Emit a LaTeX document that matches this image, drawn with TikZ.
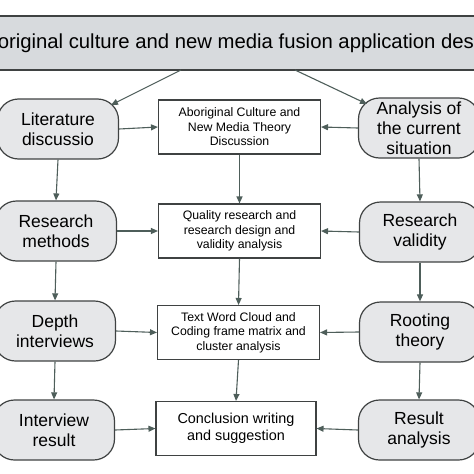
\documentclass[tikz,border=0pt]{standalone}
\usepackage{fontspec}
\setmainfont{Liberation Sans}
\usetikzlibrary{arrows.meta}
\definecolor{linec}{HTML}{4E5E5A}
\definecolor{edgec}{HTML}{3F4242}
\definecolor{sidefill}{HTML}{E6E7E9}
\definecolor{banfill}{HTML}{D7DADD}
\begin{document}
\begin{tikzpicture}[x=1pt,y=-1pt,
  sidebox/.style={draw=edgec,line width=1.2pt,fill=sidefill,rounded corners=21pt,
     minimum width=121pt,minimum height=60pt,align=center,font=\fontsize{17.5}{20}\selectfont,inner sep=0pt},
  midbox/.style={draw=edgec,line width=1.1pt,fill=white,minimum width=162pt,minimum height=54pt,
     align=center,font=\fontsize{12.3}{14.5}\selectfont,inner sep=0pt},
  conn/.style={draw=linec,line width=1.1pt,-{Triangle[length=7pt,width=6pt]}}]
\useasboundingbox (0,0) rectangle (474,474);
\begin{scope}
\clip (0,0) rectangle (474,474);
\node[draw=edgec,line width=1.2pt,fill=banfill,minimum width=500pt,minimum height=54pt,inner sep=0pt] (ban) at (237,43) {};
\node[font=\fontsize{20.3}{22}\selectfont] (bantext) at (ban.center) {Aboriginal culture and new media fusion application design};
% side boxes
\node[sidebox] (l1) at (58,129) {Literature\\discussio};
\node[sidebox] (l2) at (56,231) {Research\\methods};
\node[sidebox] (l3) at (55,331) {Depth\\interviews};
\node[sidebox] (l4) at (54,430) {Interview\\result};
\node[sidebox] (r1) at (419,128) {Analysis of\\the current\\situation};
\node[sidebox] (r2) at (420,232) {Research\\validity};
\node[sidebox] (r3) at (420,332) {Rooting\\theory};
\node[sidebox] (r4) at (419,430) {Result\\analysis};
% middle boxes
\node[midbox] (m1) at (239.5,127) {Aboriginal Culture and\\New Media Theory\\Discussion};
\node[midbox] (m2) at (239.5,231) {Quality research and\\research design and\\validity analysis};
\node[midbox] (m3) at (238.5,332.5) {Text Word Cloud and\\Coding frame matrix and\\cluster analysis};
\node[midbox,minimum width=160pt,font=\fontsize{14.4}{17}\selectfont] (m4) at (236,428.5) {Conclusion writing\\and suggestion};
\end{scope}
% connectors from banner
\coordinate (bl) at (181,70);
\coordinate (br) at (295,70);
\draw[conn] (bl) -- (111,105) coordinate (l1t);
\draw[conn] (br) -- (367,104) coordinate (r1t);
% horizontals
\foreach \i in {1,2,3,4}{
  \draw[conn] (l\i.east) -- (m\i.west);
  \draw[conn] (r\i.west) -- (m\i.east);
}
% verticals
\draw[conn] (l1.south) -- (l2.north);
\draw[conn] (l2.south) -- (l3.north);
\draw[conn] (l3.south) -- (l4.north);
\draw[conn] (r1.south) -- (r2.north);
\draw[conn] (r2.south) -- (r3.north);
\draw[conn] (r3.south) -- (r4.north);
\draw[conn] (m1.south) -- (m2.north);
\draw[conn] (m2.south) -- (m3.north);
\draw[conn] (m3.south) -- (m4.north);
\end{tikzpicture}
\end{document}
